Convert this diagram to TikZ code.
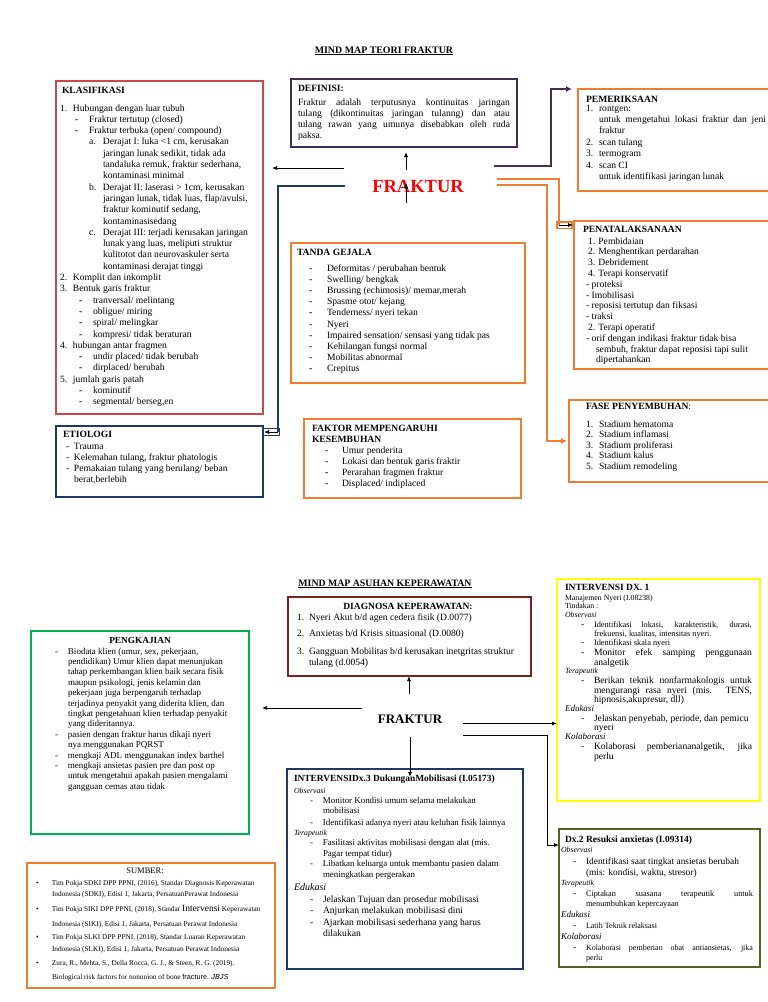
\documentclass[tikz,border=0pt]{standalone}
\usepackage{fontspec}
\setmainfont{Liberation Serif}
\setsansfont{Liberation Sans}
\usetikzlibrary{arrows.meta,fit}
\definecolor{klasred}{RGB}{205,72,72}
\definecolor{defpurple}{RGB}{64,49,82}
\definecolor{orng}{RGB}{237,125,49}
\definecolor{navy}{RGB}{32,56,100}
\definecolor{grn}{RGB}{0,176,80}
\definecolor{dred}{RGB}{122,33,33}
\definecolor{ylw}{RGB}{255,255,0}
\definecolor{olive}{RGB}{79,98,40}
\newcounter{tn}
\newcommand\fs[1]{\fontsize{#1}{#1}\selectfont}
\newcommand\T[3]{\stepcounter{tn}\node[txt] (t\arabic{tn}) at (#1,{#2}) {#3};}
\newcommand\TC[3]{\stepcounter{tn}\node[txtc] (t\arabic{tn}) at (#1,{#2}) {#3};}
\newcommand\TL[5]{\stepcounter{tn}\node[txt] (t\arabic{tn}) at (#1,{#3}) {\makebox[\dimexpr#2pt-#1pt\relax][l]{#4}#5};}
\begin{document}
\begin{tikzpicture}[x=1pt,y=-1pt,
 txt/.style={anchor=base west,inner sep=0pt,outer sep=0pt,font=\fs{9.6}},
 txtc/.style={anchor=base,inner sep=0pt,outer sep=0pt,font=\fs{9.6}},
 bx/.style={rectangle,inner sep=0pt,outer sep=0pt},
 arr/.style={-{Latex[length=5pt,width=4pt]},line width=0.8pt}]
\useasboundingbox (0,0) rectangle (768,1002);
\fill[white] (0,0) rectangle (768,1002);
\begin{scope}
\clip (0,0) rectangle (768,1002);

% ---------------- TOP ----------------
\TC{384}{53}{\fs{9.9}\underline{\textbf{MIND MAP TEORI FRAKTUR}}}

\node[bx,draw=klasred,line width=1.8pt,fit={(56,81) (263,414)}] (klas) {};
\node[bx,draw=defpurple,line width=1.8pt,fit={(291,79) (517,147)}] (def) {};
\node[bx,draw=orng,line width=1.3pt,fit={(578,89) (776,191)}] (pem) {};
\node[bx,draw=orng,line width=1.3pt,fit={(574,221) (776,369)}] (pen) {};
\node[bx,draw=orng,line width=1.3pt,fit={(291,243) (525,383)}] (tanda) {};
\node[bx,draw=orng,line width=1.3pt,fit={(304,419) (521,498)}] (fak) {};
\node[bx,draw=orng,line width=1.3pt,fit={(569,400) (776,482)}] (fase) {};
\node[bx,draw=navy,line width=1.8pt,fit={(56,426) (263,497)}] (etio) {};

\node[font=\fs{18.5}\bfseries,text=red,inner sep=0pt] (frak) at (418,186) {FRAKTUR};

\coordinate (u0) at (406,170);
\draw[arr] (u0) -- ([yshift=-5pt]u0 |- def.south);
\coordinate (d0) at (406,203);
\draw[arr] (d0) -- ([yshift=20pt]d0);
\coordinate (l0) at (344,168);
\draw[arr] (l0) -- ([xshift=9pt]l0 -| klas.east);
\coordinate (b0) at (345,186);
\coordinate (b1) at (278,432);
\coordinate (b2) at (264,432);
\draw[navy,line width=1.7pt] (b0) -| (b1);
\draw[navy,line width=0.7pt] (263,428.5) rectangle (279,435.5);
\draw[arr] (b1) -- (b2);
\coordinate (p0) at (494,166);
\coordinate (p1) at (551,89);
\coordinate (p2) at (572,89);
\draw[defpurple,line width=2pt,-{Latex[length=6pt,width=6pt]}] (p0) -| (p1) -- (p2);
\coordinate (oa0) at (497,179);
\coordinate (oa1) at (559,225);
\coordinate (oa2) at (573,225);
\draw[orng,line width=1.6pt] (oa0) -| (oa1);
\draw[orng,line width=1.2pt] (557,222) rectangle (572,228.5);
\draw[arr] (oa1) -- (oa2);
\coordinate (ob0) at (497,185);
\coordinate (ob1) at (547,441);
\coordinate (ob2) at (567,441);
\draw[orng,line width=1.6pt,-{Latex[length=6pt,width=6pt]}] (ob0) -| (ob1) -- (ob2);

% KLASIFIKASI text
\T{62}{93}{\textbf{KLASIFIKASI}}
\TL{60}{73}{111}{1.}{Hubungan dengan luar tubuh}
\TL{75}{89}{111+11.3}{\textbf{-}}{Fraktur tertutup (closed)}
\TL{75}{89}{111+11.3*2}{\textbf{-}}{Fraktur terbuka (open/ compound)}
\TL{89}{103}{111+11.3*3}{a.}{Derajat I: luka <1 cm, kerusakan}
\T{103}{111+11.3*4}{jaringan lunak sedikit, tidak ada}
\T{103}{111+11.3*5}{tandaluka remuk, fraktur sederhana,}
\T{103}{111+11.3*6}{kontaminasi minimal}
\TL{89}{103}{111+11.3*7}{b.}{Derajat II: laserasi > 1cm, kerusakan}
\T{103}{111+11.3*8}{jaringan lunak, tidak luas, flap/avulsi,}
\T{103}{111+11.3*9}{fraktur kominutif sedang,}
\T{103}{111+11.3*10}{kontaminasisedang}
\TL{89}{103}{111+11.3*11}{c.}{Derajat III: terjadi kerusakan jaringan}
\T{103}{111+11.3*12}{lunak yang luas, meliputi struktur}
\T{103}{111+11.3*13}{kulitotot dan neurovaskuler serta}
\T{103}{111+11.3*14}{kontaminasi derajat tinggi}
\TL{60}{73}{111+11.3*15}{2.}{Komplit dan inkomplit}
\TL{60}{73}{111+11.3*16}{3.}{Bentuk garis fraktur}
\TL{79}{93}{111+11.3*17}{\textbf{-}}{tranversal/ melintang}
\TL{79}{93}{111+11.3*18}{\textbf{-}}{obligue/ miring}
\TL{79}{93}{111+11.3*19}{\textbf{-}}{spiral/ melingkar}
\TL{79}{93}{111+11.3*20}{\textbf{-}}{kompresi/ tidak beraturan}
\TL{60}{73}{111+11.3*21}{4.}{hubungan antar fragmen}
\TL{79}{93}{111+11.3*22}{\textbf{-}}{undir placed/ tidak berubah}
\TL{79}{93}{111+11.3*23}{\textbf{-}}{dirplaced/ berubah}
\TL{60}{73}{111+11.3*24}{5.}{jumlah garis patah}
\TL{79}{93}{111+11.3*25}{\textbf{-}}{kominutif}
\TL{79}{93}{111+11.3*26}{\textbf{-}}{segmental/ berseg,en}

% DEFINISI
\T{298}{91}{\textbf{DEFINISI:}}
\T{298}{105}{\makebox[212pt][s]{Fraktur adalah terputusnya kontinuitas jaringan}}
\T{298}{116}{\makebox[212pt][s]{tulang (dikontinuitas jaringan tulanng) dan atau}}
\T{298}{127}{\makebox[212pt][s]{tulang rawan yang umunya disebabkan oleh ruda}}
\T{298}{138}{paksa.}

% PEMERIKSAAN
\T{586}{102}{\textbf{PEMERIKSAAN}}
\TL{586}{599}{111}{1.}{rontgen:}
\T{599}{122.4}{\makebox[167pt][s]{untuk mengetahui lokasi fraktur dan jeni}}
\T{599}{133.8}{fraktur}
\TL{586}{599}{145.2}{2.}{scan tulang}
\TL{586}{599}{156.6}{3.}{termogram}
\TL{586}{599}{168}{4.}{scan CI}
\T{599}{179.4}{untuk identifikasi jaringan lunak}

% PENATALAKSANAAN
\T{583}{232}{\textbf{PENATALAKSANAAN}}
\T{588}{244}{1. Pembidaian}
\T{588}{244+10.8}{2. Menghentikan perdarahan}
\T{588}{244+10.8*2}{3. Debridement}
\T{588}{244+10.8*3}{4. Terapi konservatif}
\T{586}{244+10.8*4}{- proteksi}
\T{586}{244+10.8*5}{- Imobilisasi}
\T{586}{244+10.8*6}{- reposisi tertutup dan fiksasi}
\T{586}{244+10.8*7}{- traksi}
\T{588}{244+10.8*8}{2. Terapi operatif}
\T{586}{244+10.8*9}{- orif dengan indikasi fraktur tidak bisa}
\T{596}{244+10.8*10}{sembuh, fraktur dapat reposisi tapi sulit}
\T{596}{244+10.8*11}{dipertahankan}

% TANDA GEJALA
\T{297}{255}{\textbf{TANDA GEJALA}}
\TL{309}{327}{271}{\textbf{-}}{Deformitas / perubahan bentuk}
\TL{309}{327}{271+11.2}{\textbf{-}}{Swelling/ bengkak}
\TL{309}{327}{271+11.2*2}{\textbf{-}}{Brussing (echimosis)/ memar,merah}
\TL{309}{327}{271+11.2*3}{\textbf{-}}{Spasme otot/ kejang}
\TL{309}{327}{271+11.2*4}{\textbf{-}}{Tenderness/ nyeri tekan}
\TL{309}{327}{271+11.2*5}{\textbf{-}}{Nyeri}
\TL{309}{327}{271+11.2*6}{\textbf{-}}{Impaired sensation/ sensasi yang tidak pas}
\TL{309}{327}{271+11.2*7}{\textbf{-}}{Kehilangan fungsi normal}
\TL{309}{327}{271+11.2*8}{\textbf{-}}{Mobilitas abnormal}
\TL{309}{327}{271+11.2*9}{\textbf{-}}{Crepitus}

% FAKTOR
\T{312}{431}{\textbf{FAKTOR MEMPENGARUHI}}
\T{312}{442}{\textbf{KESEMBUHAN}}
\TL{325}{342}{453}{\textbf{-}}{Umur penderita}
\TL{325}{342}{453+11.3}{\textbf{-}}{Lokasi dan bentuk garis fraktir}
\TL{325}{342}{453+11.3*2}{\textbf{-}}{Perarahan fragmen fraktur}
\TL{325}{342}{453+11.3*3}{\textbf{-}}{Displaced/ indiplaced}

% FASE
\T{586}{409}{\textbf{FASE PENYEMBUHAN}:}
\TL{586}{599}{427}{1.}{Stadium hematoma}
\TL{586}{599}{427+10.5}{2.}{Stadium inflamasi}
\TL{586}{599}{427+10.5*2}{3.}{Stadium proliferasi}
\TL{586}{599}{427+10.5*3}{4.}{Stadium kalus}
\TL{586}{599}{427+10.5*4}{5.}{Stadium remodeling}

% ETIOLOGI
\T{63}{437}{\textbf{ETIOLOGI}}
\TL{66}{74}{449}{-}{Trauma}
\TL{66}{74}{449+11.3}{-}{Kelemahan tulang, fraktur phatologis}
\TL{66}{74}{449+11.3*2}{-}{Pemakaian tulang yang berulang/ beban}
\T{74}{449+11.3*3}{berat,berlebih}

% ---------------- BOTTOM ----------------
\TC{385}{586}{\fs{9.8}\underline{\textbf{MIND MAP ASUHAN KEPERAWATAN}}}

\node[bx,draw=dred,line width=2pt,fit={(288,597) (531,676)}] (diag) {};
\node[bx,draw=grn,line width=2.8pt,fit={(31,631) (249,834)}] (peng) {};
\node[bx,draw=ylw,line width=2.2pt,fit={(557,579) (760,801)}] (dx1) {};
\node[bx,draw=olive,line width=1.5pt,fit={(559,829) (760,967)}] (dx2) {};
\node[bx,draw=navy,line width=1.6pt,fit={(287,769) (523,969)}] (dx3) {};
\node[bx,draw=orng,line width=1.5pt,fit={(27,863) (275,988)}] (sumber) {};

\node[font=\fs{13}\bfseries,inner sep=0pt] (frak2) at (410,719) {FRAKTUR};

\coordinate (q0) at (409,694);
\draw[arr] (q0) -- (q0 |- diag.south);
\coordinate (q1) at (362,708);
\draw[arr] (q1) -- ([xshift=13pt]q1 -| peng.east);
\coordinate (q2) at (463,723.5);
\draw[arr] (q2) -- (q2 -| dx1.west);
\coordinate (q3) at (463,735);
\coordinate (q4) at (547,845);
\draw[line width=0.8pt] (q3) -| (q4);
\draw[arr] (q4) -- (q4 -| dx2.west);
\coordinate (q5) at (410,737);
\draw[arr] (q5) -- ([yshift=-8pt]q5 |- dx3.north);

% DIAGNOSA
\TC{408}{609}{\fs{9.5}\textbf{DIAGNOSA KEPERAWATAN:}}
\TL{297}{309}{620}{1.}{Nyeri Akut b/d agen cedera fisik (D.0077)}
\TL{297}{309}{636}{2.}{Anxietas b/d Krisis situasional (D.0080)}
\TL{297}{309}{654}{3.}{Gangguan Mobilitas b/d kerusakan inetgritas struktur}
\T{309}{665}{tulang (d.0054)}

% PENGKAJIAN
\begin{scope}[txt/.append style={font=\fs{9}}]
\TC{140}{643}{\fs{9.3}\textbf{PENGKAJIAN}}
\TL{55}{68}{654}{-}{Biodata klien (umur, sex, pekerjaan,}
\T{68}{654+10.4}{pendidikan) Umur klien dapat menunjukan}
\T{68}{654+10.4*2}{tahap perkembangan klien baik secara fisik}
\T{68}{654+10.4*3}{maupun psikologi, jenis kelamin dan}
\T{68}{654+10.4*4}{pekerjaan juga berpengaruh terhadap}
\T{68}{654+10.4*5}{terjadinya penyakit yang diderita klien, dan}
\T{68}{654+10.4*6}{tingkat pengetahuan klien terhadap penyakit}
\T{68}{654+10.4*7}{yang dideritannya.}
\TL{55}{68}{654+10.4*8}{-}{pasien dengan fraktur harus dikaji nyeri}
\T{68}{654+10.4*9}{nya menggunakan PQRST}
\TL{55}{68}{654+10.4*10}{-}{mengkaji ADL menggunakan index barthel}
\TL{55}{68}{654+10.4*11}{-}{mengkaji ansietas pasien pre dan post op}
\T{68}{654+10.4*12}{untuk mengetahui apakah pasien mengalami}
\T{68}{654+10.4*13}{gangguan cemas atau tidak}
\end{scope}

% INTERVENSI DX 1
\T{565}{590}{\fs{9.5}\textbf{INTERVENSI DX. 1}}
\T{565}{600}{\fs{7.8}Manajemen Nyeri (I.08238)}
\T{565}{608.5}{\fs{7.8}Tindakan :}
\T{565}{617}{\fs{7.8}\itshape Observasi}
\TL{581}{594}{627}{-}{\fs{8.3}\makebox[158pt][s]{Identifikasi lokasi, karakteristik, durasi,}}
\T{594}{636}{\fs{8.3}frekuensi, kualitas, intensitas nyeri.}
\TL{581}{594}{645.5}{-}{\fs{8.3}Identifikasi skala nyeri}
\TL{581}{594}{655.5}{-}{\makebox[158pt][s]{Monitor efek samping penggunaan}}
\T{594}{665}{analgetik}
\T{565}{673}{\fs{7.8}\itshape Terapeutik}
\TL{581}{594}{683.5}{-}{\makebox[158pt][s]{Berikan teknik nonfarmakologis untuk}}
\T{594}{693}{\makebox[158pt][s]{mengurangi rasa nyeri (mis. TENS,}}
\T{594}{702}{hipnosis,akupresur, dll)}
\T{565}{711}{\fs{9}\itshape Edukasi}
\TL{581}{594}{721}{-}{Jelaskan penyebab, periode, dan pemicu}
\T{594}{730.5}{nyeri}
\T{565}{739}{\fs{9}\itshape Kolaborasi}
\TL{581}{594}{749.5}{-}{\makebox[158pt][s]{Kolaborasi pemberiananalgetik, jika}}
\T{594}{759}{perlu}

% Dx.2
\T{565}{842}{\fs{9.5}\textbf{Dx.2 Resuksi anxietas (I.09314)}}
\T{561}{852}{\fs{7.8}\itshape Observasi}
\TL{573}{586}{864}{-}{\fs{9.4}Identifikasi saat tingkat ansietas berubah}
\T{586}{875}{\fs{9.4}(mis: kondisi, waktu, stresor)}
\T{561}{885}{\fs{7.8}\itshape Terapeutik}
\TL{573}{586}{896}{-}{\fs{8.3}\makebox[167pt][s]{Ciptakan suasana terapeutik untuk}}
\T{586}{906}{\fs{8.3}menumbuhkan kepercayaan}
\T{561}{917}{\fs{9}\itshape Edukasi}
\TL{573}{586}{928}{-}{\fs{8}Latih Teknik relaksasi}
\T{561}{939}{\fs{9}\itshape Kolaborasi}
\TL{573}{586}{950}{-}{\fs{8}\makebox[167pt][s]{Kolaborasi pemberian obat antiansietas, jika}}
\T{586}{960}{\fs{8}perlu}

% Dx.3
\T{294}{781}{\fs{9.4}\textbf{INTERVENSIDx.3 DukunganMobilisasi (I.05173)}}
\T{294}{793}{\fs{7.8}\itshape Observasi}
\begin{scope}[txt/.append style={font=\fs{8.9}}]
\TL{310}{323}{803.5}{-}{Monitor Kondisi umum selama melakukan}
\T{323}{813.5}{mobilisasi}
\TL{310}{323}{825}{-}{Identifikasi adanya nyeri atau keluhan fisik lainnya}
\T{294}{835}{\fs{7.8}\itshape Terapeutik}
\TL{310}{323}{845.5}{-}{Fasilitasi aktivitas mobilisasi dengan alat (mis.}
\T{323}{856}{Pagar tempat tidur)}
\TL{310}{323}{866.5}{-}{Libatkan keluarga untuk membantu pasien dalam}
\T{323}{877}{meningkatkan pergerakan}
\end{scope}
\T{294}{890}{\fs{10}\itshape Edukasi}
\TL{310}{323}{902}{-}{Jelaskan Tujuan dan prosedur mobilisasi}
\TL{310}{323}{913.5}{-}{Anjurkan melakukan mobilisasi dini}
\TL{310}{323}{925}{-}{Ajarkan mobilisasi sederhana yang harus}
\T{323}{936}{dilakukan}

% SUMBER
\begin{scope}[txt/.append style={font=\fs{7.3}}]
\TC{145}{873}{\fs{8.5}SUMBER:}
\TL{36}{52}{885}{\textbullet}{Tim Pokja SDKI DPP PPNI, (2016), Standar Diagnosis Keperawatan}
\T{52}{896.5}{Indonesia (SDKI), Edisi 1, Jakarta, PersatuanPerawat Indonesia}
\TL{36}{52}{911}{\textbullet}{Tim Pokja SIKI DPP PPNI, (2018), Standar {\fs{9.5}Intervensi} Keperawatan}
\T{52}{926}{Indonesia (SIKI), Edisi 1, Jakarta, Persatuan Perawat Indonesia}
\TL{36}{52}{939.5}{\textbullet}{Tim Pokja SLKI DPP PPNI, (2018), Standar Luaran Keperawatan}
\T{52}{951.5}{Indonesia (SLKI), Edisi 1, Jakarta, Persatuan Perawat Indonesia}
\TL{36}{52}{965.5}{\textbullet}{Zura, R., Mehta, S., Della Rocca, G. J., \& Steen, R. G. (2019).}
\T{52}{979.5}{Biological risk factors for nonunion of bone {\sffamily fracture}. {\sffamily\itshape JBJS}}
\end{scope}
\end{scope}
\end{tikzpicture}
\end{document}
